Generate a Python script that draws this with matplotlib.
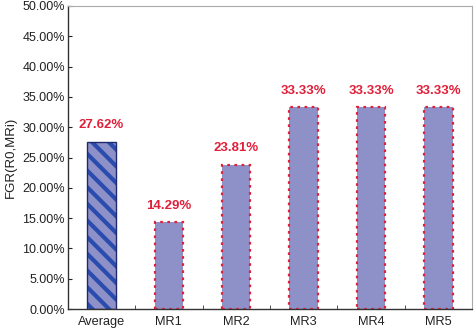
import numpy as np
import matplotlib.pyplot as plt
from matplotlib.ticker import FuncFormatter, MultipleLocator

plt.rcParams['font.family'] = ['Liberation Sans', 'DejaVu Sans']
plt.rcParams['hatch.linewidth'] = 3.0

# data
categories = ['Average', 'MR1', 'MR2', 'MR3', 'MR4', 'MR5']
values = [27.62, 14.29, 23.81, 33.33, 33.33, 33.33]
labels = ['27.62%', '14.29%', '23.81%', '33.33%', '33.33%', '33.33%']

fill = '#8e90c8'
red = '#e0203a'

fig = plt.figure(figsize=(4.74, 3.32), dpi=100)
ax = fig.add_axes([0.143, 0.069, 0.853, 0.913])

x = np.arange(len(categories))
width = 0.42

# Average bar: hatched with blue stripes
plt.rcParams['hatch.color'] = '#2a4cae'
ax.bar(x[0], values[0], width, color=fill, edgecolor='#2a4cae',
       linewidth=0, hatch='\\\\')
ax.bar(x[0], values[0], width, color='none', edgecolor='#1f2a6e', linewidth=1.0)

# other bars: red dotted outlines
ax.bar(x[1:], values[1:], width, color=fill, edgecolor=red,
       linewidth=1.6, linestyle=(0, (1.2, 2.0)))

for xi, v, lab in zip(x, values, labels):
    ax.text(xi, v + 1.7, lab, ha='center', va='bottom', color=red,
            fontsize=9.5, fontweight='bold')

ax.set_xlim(-0.5, 5.5)
ax.set_ylim(0, 50)
ax.yaxis.set_major_locator(MultipleLocator(5))
ax.yaxis.set_major_formatter(FuncFormatter(lambda v, p: f'{v:.2f}%'))
ax.set_xticks(x)
ax.set_xticklabels(categories)
ax.set_xticks(x[:-1] + 0.5, minor=True)
ax.tick_params(axis='x', which='major', length=0, labelsize=9.2, pad=5, colors='#222222')
ax.tick_params(axis='x', which='minor', direction='in', length=3, color='#333333')
ax.tick_params(axis='y', direction='in', length=3, labelsize=9, colors='#222222', pad=2)
ax.set_ylabel('FGR(R0,MRi)', fontsize=9.5, color='#222222', labelpad=4)

for s in ['left', 'bottom']:
    ax.spines[s].set_color('#333333')
    ax.spines[s].set_linewidth(1.0)
for s in ['top', 'right']:
    ax.spines[s].set_color('#aaaaaa')
    ax.spines[s].set_linewidth(0.8)

fig.savefig('out.png', dpi=100, facecolor='white')
